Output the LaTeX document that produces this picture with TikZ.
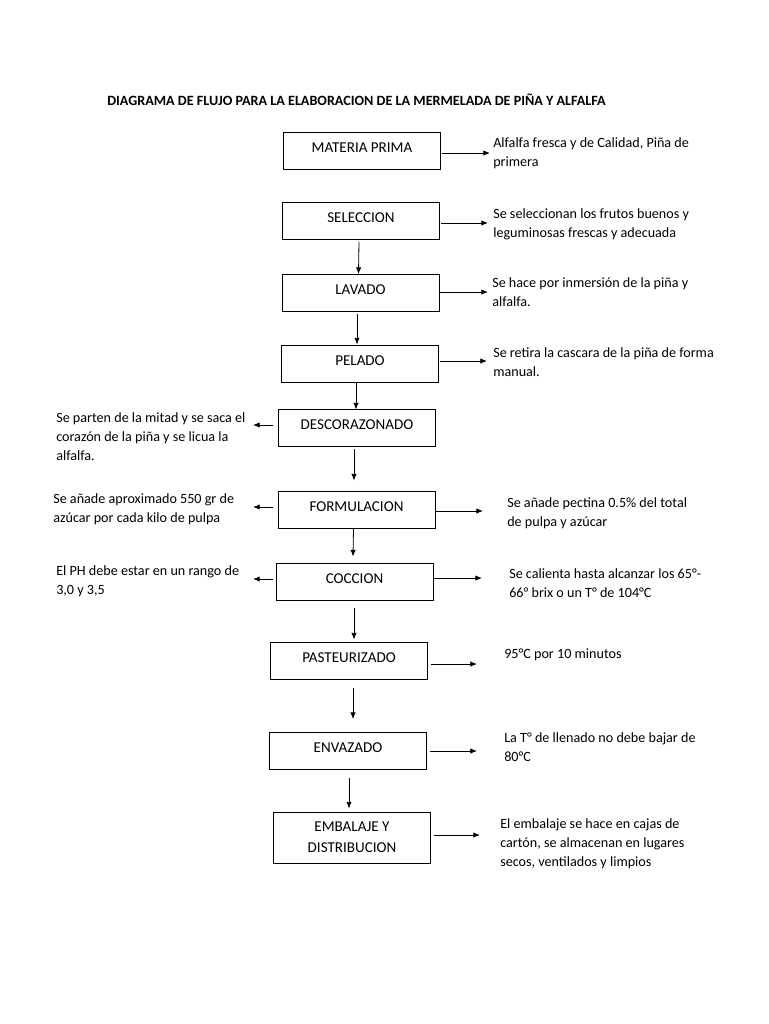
\documentclass[tikz,border=0pt]{standalone}
\usepackage{fontspec}
\setmainfont{Carlito}
\usetikzlibrary{arrows.meta,calc}
\tikzset{
  box/.style={draw, line width=0.7pt, minimum width=117.75pt, minimum height=27.75pt, inner sep=0pt,
    font=\fontsize{11.3}{14}\selectfont},
  onebox/.style={box, text height=7.3pt, text depth=4.5pt},
  arr/.style={-{Latex[length=5pt,width=4pt]}, line width=0.6pt},
  note/.style={font=\fontsize{10.6}{14.25}\selectfont, align=left, inner sep=0pt, anchor=base west},
  ttl/.style={font=\bfseries\fontsize{10.6}{12}\selectfont, inner sep=0pt, anchor=base west}
}
\begin{document}
\begin{tikzpicture}[x=0.75pt, y=-0.75pt]
\fill[white] (0,0) rectangle (768,1024);
\useasboundingbox (0,0) rectangle (768,1024);

\node[ttl] (title) at (107,105.5) {DIAGRAMA DE FLUJO PARA LA ELABORACION DE LA MERMELADA DE PIÑA Y ALFALFA};

% boxes
\node[onebox] (mp)   at (362,150.5) {MATERIA PRIMA};
\node[onebox] (sel)  at (361,221)   {SELECCION};
\node[onebox] (lav)  at (360.5,293) {LAVADO};
\node[onebox] (pel)  at (360,363.5) {PELADO};
\node[onebox] (des)  at (357,427.5) {DESCORAZONADO};
\node[onebox] (form) at (356.5,509.5) {FORMULACION};
\node[onebox] (coc)  at (354.5,581.5) {COCCION};
\node[onebox] (past) at (349,660.5) {PASTEURIZADO};
\node[onebox] (env)  at (348,751)   {ENVAZADO};
\node[box, minimum height=38.25pt, align=center, font=\fontsize{11.3}{15.75}\selectfont] (emb) at (352,837.5) {EMBALAJE Y\\DISTRIBUCION};

% notes (anchored at the baseline of their last line)
\node[note] (tmp)   at (493,166.5) {Alfalfa fresca y de Calidad, Piña de\\primera};
\node[note] (tsel)  at (493,237.5) {Se seleccionan los frutos buenos y\\leguminosas frescas y adecuada};
\node[note] (tlav)  at (492,306.5) {Se hace por inmersión de la piña y\\alfalfa.};
\node[note] (tpel)  at (493,376.5) {Se retira la cascara de la piña de forma\\manual.};
\node[note] (tdes)  at (56,460.5)  {Se parten de la mitad y se saca el\\corazón de la piña y se licua la\\alfalfa.};
\node[note] (tforl) at (53,522.5)  {Se añade aproximado 550 gr de\\azúcar por cada kilo de pulpa};
\node[note] (tforr) at (507,526.5) {Se añade pectina 0.5\% del total\\de pulpa y azúcar};
\node[note] (tcocl) at (56,594.5)  {El PH debe estar en un rango de\\3,0 y 3,5};
\node[note] (tcocr) at (509,597.5) {Se calienta hasta alcanzar los 65°-\\66° brix o un T° de 104°C};
\node[note] (tpast) at (504,658.5) {95°C por 10 minutos};
\node[note] (tenv)  at (504,761.5) {La T° de llenado no debe bajar de\\80°C};
\node[note] (temb)  at (500,866.5) {El embalaje se hace en cajas de\\cartón, se almacenan en lugares\\secos, ventilados y limpios};

% arrow ends (right)
\coordinate (rmp)   at (490,153);
\coordinate (rsel)  at (488,223);
\coordinate (rlav)  at (488,292);
\coordinate (rpel)  at (487,361);
\coordinate (rform) at (483,511);
\coordinate (rcoc)  at (482,578);
\coordinate (rpast) at (477,664);
\coordinate (renv)  at (477,751);
\coordinate (remb)  at (480,835);
% arrow ends (left)
\coordinate (ldes)  at (253,425);
\coordinate (lform) at (253,507);
\coordinate (lcoc)  at (253,579);

\draw[arr] ($(mp.east |- rmp)+(1,0)$) -- (rmp);
\draw[arr] ($(sel.east |- rsel)+(1,0)$) -- (rsel);
\draw[arr] ($(lav.east |- rlav)+(1,0)$) -- (rlav);
\draw[arr] ($(pel.east |- rpel)+(1,0)$) -- (rpel);
\draw[arr] ($(form.east |- rform)+(1,0)$) -- (rform);
\draw[arr] ($(coc.east |- rcoc)+(1,0)$) -- (rcoc);
\draw[arr] ($(past.east |- rpast)+(3,0)$) -- (rpast);
\draw[arr] ($(env.east |- renv)+(3,0)$) -- (renv);
\draw[arr] ($(emb.east |- remb)+(3,0)$) -- (remb);

\draw[arr] ($(des.west |- ldes)+(-5,0)$) -- (ldes);
\draw[arr] ($(form.west |- lform)+(-5,0)$) -- (lform);
\draw[arr] ($(coc.west |- lcoc)+(-3,0)$) -- (lcoc);

% vertical arrows
\draw[arr] ($(sel.south)+(-2,2)$) -- ($(lav.north)+(-2,0)$);
\draw[arr] ($(lav.south)+(-3.5,2)$) -- ($(pel.north)+(-3,0)$);
\draw[arr] ($(pel.south)+(-4,0)$) -- ($(des.north)+(-1,1)$);
\draw[arr] ($(des.south)+(-3,3)$) -- ($(form.north)+(-2.5,-10)$);
\draw[arr] ($(form.south)+(-3,0)$) -- ($(coc.north)+(-1.5,-6)$);
\draw[arr] ($(coc.south)+(-0.5,8)$) -- ($(past.north)+(5,-2)$);
\draw[arr] ($(past.south)+(4,9)$) -- ($(env.north)+(5,-13)$);
\draw[arr] ($(env.south)+(1,8)$) -- ($(emb.north)+(-3,-3)$);
\end{tikzpicture}
\end{document}
